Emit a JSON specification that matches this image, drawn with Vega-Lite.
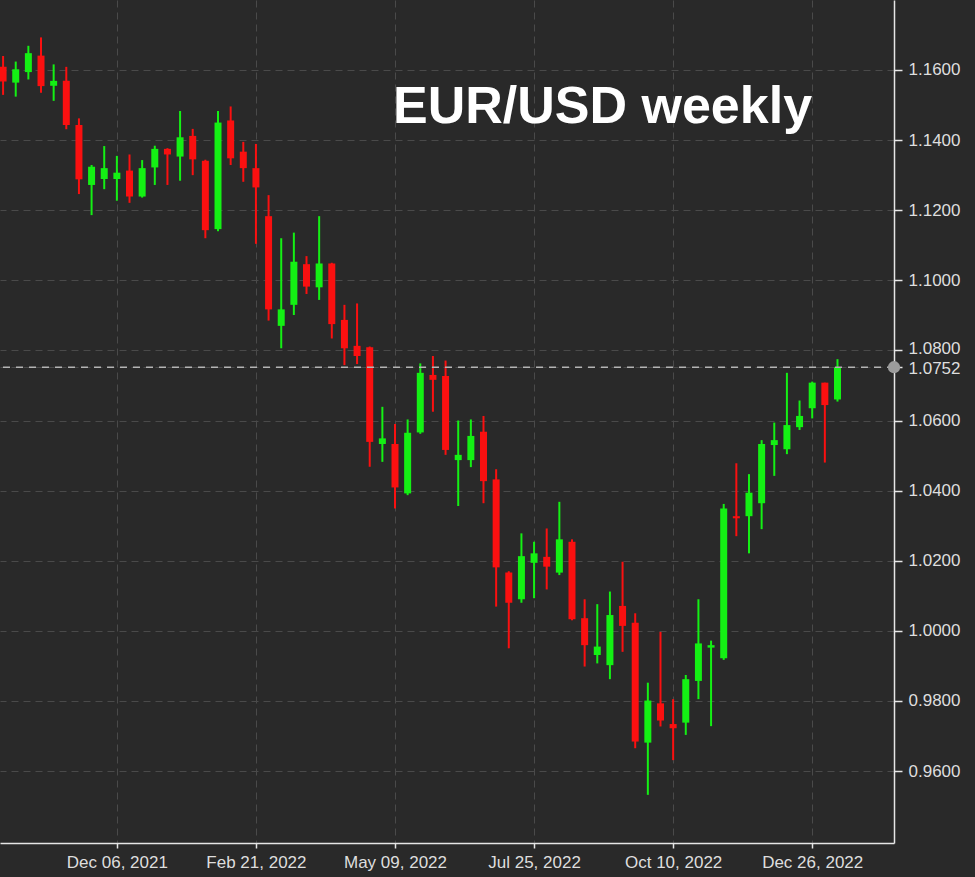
{
  "$schema": "https://vega.github.io/schema/vega-lite/v6.json",
  "width": 894,
  "height": 843,
  "autosize": {"type": "none"},
  "padding": {"left": 0, "top": 0, "right": 81, "bottom": 34},
  "background": "#292929",
  "config": {
    "view": {"stroke": null},
    "font": "Liberation Sans",
    "axis": {
      "labelFont": "Liberation Sans",
      "labelFontSize": 17,
      "labelColor": "#dedede",
      "domainColor": "#e6e6e6",
      "domainWidth": 1.5,
      "tickColor": "#e6e6e6",
      "tickWidth": 1.5,
      "gridColor": "#4a4a4a",
      "gridDash": [7, 5],
      "gridWidth": 1,
      "labelFlush": false,
      "labelOverlap": false,
      "title": null
    }
  },
  "title": {
    "text": "EUR/USD weekly",
    "orient": "top",
    "anchor": "start",
    "frame": "group",
    "baseline": "alphabetic",
    "offset": -175,
    "dx": 393,
    "font": "Liberation Sans",
    "fontSize": 52,
    "fontWeight": "bold",
    "color": "#ffffff"
  },
  "layer": [
    {
      "data": {
        "values": [
          {"date": "2021-10-04", "open": 1.1609, "high": 1.1640, "low": 1.1529, "close": 1.1567},
          {"date": "2021-10-11", "open": 1.1564, "high": 1.1624, "low": 1.1524, "close": 1.1602},
          {"date": "2021-10-18", "open": 1.1594, "high": 1.1669, "low": 1.1573, "close": 1.1648},
          {"date": "2021-10-25", "open": 1.1641, "high": 1.1693, "low": 1.1535, "close": 1.1554},
          {"date": "2021-11-01", "open": 1.1555, "high": 1.1616, "low": 1.1512, "close": 1.1569},
          {"date": "2021-11-08", "open": 1.1569, "high": 1.1609, "low": 1.1431, "close": 1.1443},
          {"date": "2021-11-15", "open": 1.1443, "high": 1.1462, "low": 1.1246, "close": 1.1288},
          {"date": "2021-11-22", "open": 1.1272, "high": 1.1329, "low": 1.1186, "close": 1.1324},
          {"date": "2021-11-29", "open": 1.1289, "high": 1.1383, "low": 1.1260, "close": 1.1320},
          {"date": "2021-12-06", "open": 1.1289, "high": 1.1355, "low": 1.1227, "close": 1.1307},
          {"date": "2021-12-13", "open": 1.1313, "high": 1.1359, "low": 1.1221, "close": 1.1239},
          {"date": "2021-12-20", "open": 1.1239, "high": 1.1343, "low": 1.1236, "close": 1.1320},
          {"date": "2021-12-27", "open": 1.1322, "high": 1.1384, "low": 1.1272, "close": 1.1375},
          {"date": "2022-01-03", "open": 1.1375, "high": 1.1377, "low": 1.1272, "close": 1.1359},
          {"date": "2022-01-10", "open": 1.1353, "high": 1.1483, "low": 1.1284, "close": 1.1408},
          {"date": "2022-01-17", "open": 1.1412, "high": 1.1432, "low": 1.1300, "close": 1.1345},
          {"date": "2022-01-24", "open": 1.1341, "high": 1.1344, "low": 1.1120, "close": 1.1143},
          {"date": "2022-01-31", "open": 1.1146, "high": 1.1483, "low": 1.1140, "close": 1.1450},
          {"date": "2022-02-07", "open": 1.1456, "high": 1.1496, "low": 1.1329, "close": 1.1348},
          {"date": "2022-02-14", "open": 1.1367, "high": 1.1395, "low": 1.1281, "close": 1.1320},
          {"date": "2022-02-21", "open": 1.1320, "high": 1.1389, "low": 1.1104, "close": 1.1265},
          {"date": "2022-02-28", "open": 1.1183, "high": 1.1243, "low": 1.0885, "close": 1.0917},
          {"date": "2022-03-07", "open": 1.0870, "high": 1.1120, "low": 1.0806, "close": 1.0917},
          {"date": "2022-03-14", "open": 1.0930, "high": 1.1136, "low": 1.0901, "close": 1.1053},
          {"date": "2022-03-21", "open": 1.1046, "high": 1.1069, "low": 1.0961, "close": 1.0982},
          {"date": "2022-03-28", "open": 1.0980, "high": 1.1183, "low": 1.0944, "close": 1.1048},
          {"date": "2022-04-04", "open": 1.1048, "high": 1.1050, "low": 1.0834, "close": 1.0875},
          {"date": "2022-04-11", "open": 1.0887, "high": 1.0930, "low": 1.0758, "close": 1.0806},
          {"date": "2022-04-18", "open": 1.0813, "high": 1.0934, "low": 1.0761, "close": 1.0784},
          {"date": "2022-04-25", "open": 1.0809, "high": 1.0811, "low": 1.0468, "close": 1.0539},
          {"date": "2022-05-02", "open": 1.0533, "high": 1.0639, "low": 1.0482, "close": 1.0549},
          {"date": "2022-05-09", "open": 1.0533, "high": 1.0590, "low": 1.0349, "close": 1.0409},
          {"date": "2022-05-16", "open": 1.0392, "high": 1.0603, "low": 1.0387, "close": 1.0565},
          {"date": "2022-05-23", "open": 1.0566, "high": 1.0763, "low": 1.0562, "close": 1.0736},
          {"date": "2022-05-30", "open": 1.0730, "high": 1.0784, "low": 1.0625, "close": 1.0716},
          {"date": "2022-06-06", "open": 1.0727, "high": 1.0771, "low": 1.0502, "close": 1.0516},
          {"date": "2022-06-13", "open": 1.0487, "high": 1.0600, "low": 1.0356, "close": 1.0502},
          {"date": "2022-06-20", "open": 1.0487, "high": 1.0603, "low": 1.0467, "close": 1.0556},
          {"date": "2022-06-27", "open": 1.0568, "high": 1.0613, "low": 1.0364, "close": 1.0427},
          {"date": "2022-07-04", "open": 1.0432, "high": 1.0461, "low": 1.0069, "close": 1.0181},
          {"date": "2022-07-11", "open": 1.0166, "high": 1.0170, "low": 0.9950, "close": 1.0080},
          {"date": "2022-07-18", "open": 1.0090, "high": 1.0278, "low": 1.0080, "close": 1.0213},
          {"date": "2022-07-25", "open": 1.0194, "high": 1.0254, "low": 1.0093, "close": 1.0221},
          {"date": "2022-08-01", "open": 1.0211, "high": 1.0292, "low": 1.0118, "close": 1.0183},
          {"date": "2022-08-08", "open": 1.0166, "high": 1.0368, "low": 1.0159, "close": 1.0261},
          {"date": "2022-08-15", "open": 1.0254, "high": 1.0261, "low": 1.0030, "close": 1.0033},
          {"date": "2022-08-22", "open": 1.0036, "high": 1.0090, "low": 0.9898, "close": 0.9959},
          {"date": "2022-08-29", "open": 0.9931, "high": 1.0076, "low": 0.9907, "close": 0.9955},
          {"date": "2022-09-05", "open": 0.9902, "high": 1.0112, "low": 0.9862, "close": 1.0045},
          {"date": "2022-09-12", "open": 1.0071, "high": 1.0197, "low": 0.9940, "close": 1.0014},
          {"date": "2022-09-19", "open": 1.0023, "high": 1.0050, "low": 0.9665, "close": 0.9684},
          {"date": "2022-09-26", "open": 0.9681, "high": 0.9852, "low": 0.9532, "close": 0.9801},
          {"date": "2022-10-03", "open": 0.9793, "high": 0.9997, "low": 0.9727, "close": 0.9744},
          {"date": "2022-10-10", "open": 0.9734, "high": 0.9805, "low": 0.9631, "close": 0.9722},
          {"date": "2022-10-17", "open": 0.9738, "high": 0.9874, "low": 0.9703, "close": 0.9862},
          {"date": "2022-10-24", "open": 0.9857, "high": 1.0090, "low": 0.9805, "close": 0.9964},
          {"date": "2022-10-31", "open": 0.9952, "high": 0.9972, "low": 0.9728, "close": 0.9959},
          {"date": "2022-11-07", "open": 0.9922, "high": 1.0362, "low": 0.9917, "close": 1.0349},
          {"date": "2022-11-14", "open": 1.0327, "high": 1.0478, "low": 1.0270, "close": 1.0321},
          {"date": "2022-11-21", "open": 1.0327, "high": 1.0447, "low": 1.0221, "close": 1.0394},
          {"date": "2022-11-28", "open": 1.0364, "high": 1.0544, "low": 1.0290, "close": 1.0533},
          {"date": "2022-12-05", "open": 1.0530, "high": 1.0594, "low": 1.0442, "close": 1.0544},
          {"date": "2022-12-12", "open": 1.0518, "high": 1.0736, "low": 1.0504, "close": 1.0587},
          {"date": "2022-12-19", "open": 1.0581, "high": 1.0657, "low": 1.0573, "close": 1.0613},
          {"date": "2022-12-26", "open": 1.0635, "high": 1.0711, "low": 1.0606, "close": 1.0708},
          {"date": "2023-01-02", "open": 1.0708, "high": 1.0708, "low": 1.0480, "close": 1.0644},
          {"date": "2023-01-09", "open": 1.0660, "high": 1.0775, "low": 1.0654, "close": 1.0752}
        ]
      },
      "encoding": {
        "x": {
          "field": "date",
          "type": "temporal",
          "scale": {
            "type": "utc",
            "nice": false,
            "padding": 0,
            "domain": [
              {"year": 2021, "month": 10, "date": 2, "hours": 7, "utc": true},
              {"year": 2023, "month": 2, "date": 9, "hours": 7, "utc": true}
            ]
          },
          "axis": {
            "orient": "bottom",
            "values": [
              {"year": 2021, "month": 12, "date": 6, "utc": true},
              {"year": 2022, "month": 2, "date": 21, "utc": true},
              {"year": 2022, "month": 5, "date": 9, "utc": true},
              {"year": 2022, "month": 7, "date": 25, "utc": true},
              {"year": 2022, "month": 10, "date": 10, "utc": true},
              {"year": 2022, "month": 12, "date": 26, "utc": true}
            ],
            "format": "%b %d, %Y",
            "tickSize": 5,
            "labelPadding": 6,
            "grid": true
          }
        },
        "color": {
          "condition": {"test": "datum.close >= datum.open", "value": "#14f014"},
          "value": "#fa1010"
        }
      },
      "layer": [
        {
          "mark": {"type": "rule", "strokeWidth": 2, "clip": true},
          "encoding": {
            "y": {
              "field": "low",
              "type": "quantitative",
              "scale": {"domain": [0.93946, 1.17997], "nice": false, "zero": false},
              "axis": {
                "orient": "right",
                "values": [0.96, 0.98, 1.0, 1.02, 1.04, 1.06, 1.0752, 1.08, 1.1, 1.12, 1.14, 1.16],
                "format": ".4f",
                "tickSize": 8,
                "labelPadding": 6,
                "labelOffset": {
                  "condition": [
                    {"test": "datum.value == 1.0752", "value": 1.5},
                    {"test": "datum.value == 1.08", "value": -1.5}
                  ],
                  "value": 0
                },
                "grid": true
              }
            },
            "y2": {"field": "high"}
          }
        },
        {
          "mark": {"type": "bar", "size": 7, "clip": true},
          "encoding": {
            "y": {"field": "open", "type": "quantitative"},
            "y2": {"field": "close"}
          }
        }
      ]
    },
    {
      "data": {"values": [{"price": 1.0752}]},
      "mark": {"type": "rule", "color": "#b4b4b4", "strokeWidth": 1.5, "strokeDash": [7, 6]},
      "encoding": {
        "y": {"field": "price", "type": "quantitative"}
      }
    },
    {
      "data": {"values": [{"price": 1.0752}]},
      "mark": {"type": "point", "filled": true, "size": 150, "color": "#9c9c9c", "opacity": 1, "clip": false},
      "encoding": {
        "x": {"datum": {"year": 2023, "month": 2, "date": 9, "hours": 7, "utc": true}, "type": "temporal"},
        "y": {"field": "price", "type": "quantitative"}
      }
    }
  ]
}
